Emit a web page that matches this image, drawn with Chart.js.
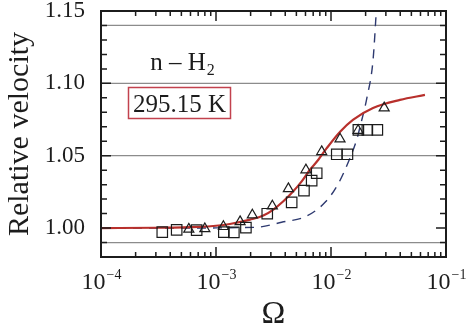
<!DOCTYPE html>
<html>
<head>
<meta charset="utf-8">
<script src="https://cdn.jsdelivr.net/npm/chart.js@4.4.0/dist/chart.umd.min.js"></script>
<style>
  html, body { margin: 0; padding: 0; background: #fff; }
</style>
</head>
<body>
<canvas id="myChart" width="474" height="333"></canvas>
<script>
// measured points (triangles and squares)
const triOmega = [0.00058, 0.00080, 0.00116, 0.00162, 0.00207, 0.00309, 0.00426, 0.00605, 0.00830, 0.01198, 0.01720, 0.02900];
const triVel = [0.9992, 0.9995, 1.0010, 1.0044, 1.0090, 1.0152, 1.0272, 1.0402, 1.0528, 1.0615, 1.0675, 1.0830];

const sqOmega = [0.000341, 0.000455, 0.000679, 0.00117, 0.00143, 0.00182, 0.00279, 0.00455, 0.00582, 0.00679, 0.00751, 0.01122, 0.01390, 0.01730, 0.02070, 0.02530];
const sqVel = [0.9972, 0.9988, 0.9986, 0.9972, 0.9970, 1.0003, 1.0099, 1.0177, 1.0259, 1.0328, 1.0379, 1.0510, 1.0510, 1.0678, 1.0678, 1.0678];

// red fit curve
const fitOmega = [0.0001, 0.0003, 0.0007, 0.0010, 0.00132, 0.00198, 0.00258, 0.00315, 0.00385, 0.00470, 0.00556, 0.00656, 0.00776, 0.00918, 0.0120, 0.0155, 0.0232, 0.0398, 0.0656];
const fitVel = [1.0000, 1.0002, 1.0008, 1.0016, 1.0028, 1.0058, 1.0086, 1.0128, 1.0185, 1.0254, 1.0323, 1.0403, 1.0472, 1.0552, 1.0666, 1.0748, 1.0830, 1.0886, 1.0920];

// dashed curve
const dashOmega = [0.0001, 0.0005, 0.0010, 0.0016, 0.00237, 0.00372, 0.00604, 0.00901, 0.01156, 0.01439, 0.0167, 0.0179, 0.0206, 0.0232, 0.0250];
const dashVel = [1.0000, 1.0000, 1.0001, 1.0003, 1.0007, 1.0040, 1.0080, 1.0183, 1.0306, 1.0471, 1.0609, 1.0700, 1.0907, 1.1160, 1.1550];

const yTickValues = [1.00, 1.05, 1.10, 1.15];
const yTickLabels = ['1.00', '1.05', '1.10', '1.15'];
const yGridValues = [0.99, 1.05, 1.10, 1.14];
const xDecades = [-4, -3, -2, -1];
const xTickLabels = ['10', '10', '10', '10'];
const xTickExps = ['\u22124', '\u22123', '\u22122', '\u22121'];

const serif = '"Liberation Serif", "Times New Roman", serif';
const ink = '#1c1c1c';

const toPts = (xs, ys) => xs.map((v, i) => ({ x: v, y: ys[i] }));

// grid lines, inward ticks, frame, x labels and the two notes
const framePlugin = {
    id: 'framePlugin',
    beforeDatasetsDraw(chart) {
        const { ctx, chartArea: a, scales: { y } } = chart;
        ctx.save();
        ctx.strokeStyle = '#8c8c8c';
        ctx.lineWidth = 1.2;
        yGridValues.forEach(v => {
            const py = y.getPixelForValue(v);
            ctx.beginPath();
            ctx.moveTo(a.left, py);
            ctx.lineTo(a.right, py);
            ctx.stroke();
        });
        ctx.restore();
    },
    afterDatasetsDraw(chart) {
        const { ctx, chartArea: a, scales: { x, y } } = chart;
        ctx.save();
        ctx.strokeStyle = ink;
        ctx.lineWidth = 1.5;
        // y ticks every 0.01
        for (let i = 99; i <= 114; i++) {
            const py = y.getPixelForValue(i / 100);
            const len = i % 5 === 0 ? 10 : 6;
            ctx.beginPath();
            ctx.moveTo(a.left, py); ctx.lineTo(a.left + len, py);
            ctx.moveTo(a.right, py); ctx.lineTo(a.right - len, py);
            ctx.stroke();
        }
        // x log ticks
        xDecades.forEach(d => {
            for (let m = 1; m <= 9; m++) {
                const v = m * Math.pow(10, d);
                if (v > 0.1 + 1e-9) break;
                const px = x.getPixelForValue(v);
                const len = m === 1 ? 10 : 5;
                ctx.beginPath();
                ctx.moveTo(px, a.bottom); ctx.lineTo(px, a.bottom - len);
                ctx.moveTo(px, a.top); ctx.lineTo(px, a.top + len);
                ctx.stroke();
            }
        });
        // frame
        ctx.lineWidth = 2;
        ctx.strokeRect(a.left, a.top, a.right - a.left, a.bottom - a.top);
        ctx.restore();
    },
    afterDraw(chart) {
        const { ctx, chartArea: a, scales: { x } } = chart;
        ctx.save();
        ctx.fillStyle = ink;
        ctx.textBaseline = 'alphabetic';
        ctx.textAlign = 'left';
        const base = '24px ' + serif;
        const sup = '14px ' + serif;
        xDecades.forEach((d, i) => {
            const px = x.getPixelForValue(Math.pow(10, d));
            ctx.font = base;
            const w1 = ctx.measureText(xTickLabels[i]).width;
            ctx.font = sup;
            const w2 = ctx.measureText(xTickExps[i]).width;
            const left = px - (w1 + w2) / 2;
            ctx.font = base;
            ctx.fillText(xTickLabels[i], left, a.bottom + 32);
            ctx.font = sup;
            ctx.fillText(xTickExps[i], left + w1 + 1, a.bottom + 22);
        });

        // n - H2
        ctx.font = '25px ' + serif;
        const t1 = 'n \u2013 H';
        const w1 = ctx.measureText(t1).width;
        ctx.font = '16px ' + serif;
        const w2 = ctx.measureText('2').width;
        const sx = 182 - (w1 + w2) / 2;
        ctx.font = '25px ' + serif;
        ctx.fillText(t1, sx, 70);
        ctx.font = '16px ' + serif;
        ctx.fillText('2', sx + w1 + 1, 75);

        // temperature box
        ctx.strokeStyle = '#c2424e';
        ctx.lineWidth = 1.5;
        ctx.strokeRect(128.5, 87.5, 102, 31);
        ctx.font = '25px ' + serif;
        ctx.textAlign = 'center';
        ctx.fillText('295.15 K', 179.5, 112);
        ctx.restore();
    }
};

const ctx = document.getElementById('myChart');
const myChart = new Chart(ctx, {
    type: 'scatter',
    data: {
        datasets: [
            {
                label: 'triangles',
                data: toPts(triOmega, triVel),
                pointStyle: 'triangle',
                pointRadius: 5.8,
                pointBorderWidth: 1.2,
                pointBorderColor: ink,
                pointBackgroundColor: 'rgba(0,0,0,0)',
                order: 1
            },
            {
                label: 'squares',
                data: toPts(sqOmega, sqVel),
                pointStyle: 'rect',
                pointRadius: 7.4,
                pointBorderWidth: 1.2,
                pointBorderColor: ink,
                pointBackgroundColor: 'rgba(0,0,0,0)',
                order: 2
            },
            {
                label: 'fit',
                data: toPts(fitOmega, fitVel),
                showLine: true,
                borderColor: '#b8302c',
                borderWidth: 2.2,
                pointRadius: 0,
                cubicInterpolationMode: 'monotone',
                order: 3
            },
            {
                label: 'dashed',
                data: toPts(dashOmega, dashVel),
                showLine: true,
                borderColor: '#2e3a70',
                borderWidth: 1.4,
                borderDash: [9, 7],
                pointRadius: 0,
                cubicInterpolationMode: 'monotone',
                order: 4
            }
        ]
    },
    options: {
        responsive: false,
        animation: false,
        events: [],
        layout: { padding: { top: 11, right: 28, left: 0, bottom: 0 } },
        plugins: {
            legend: { display: false },
            tooltip: { enabled: false }
        },
        scales: {
            x: {
                type: 'logarithmic',
                min: 0.0001,
                max: 0.1,
                grid: { display: false },
                border: { display: false },
                ticks: { display: false },
                title: {
                    display: true,
                    text: '\u03A9',
                    color: ink,
                    font: { family: serif, size: 32 },
                    padding: { top: 0, bottom: -1 }
                },
                afterFit(s) { s.height = 76; }
            },
            y: {
                min: 0.98,
                max: 1.15,
                grid: { display: false },
                border: { display: false },
                afterBuildTicks(s) { s.ticks = yTickValues.map(v => ({ value: v })); },
                ticks: {
                    autoSkip: false,
                    padding: 8,
                    color: ink,
                    font: { family: serif, size: 23 },
                    callback: (v, i) => yTickLabels[i]
                },
                title: {
                    display: true,
                    text: 'Relative velocity',
                    color: ink,
                    font: { family: serif, size: 30 },
                    padding: { top: 2, bottom: 0 }
                },
                afterFit(s) { s.width = 101; s.paddingTop = 0; s.paddingBottom = 0; }
            }
        }
    },
    plugins: [framePlugin]
});
</script>
</body>
</html>
